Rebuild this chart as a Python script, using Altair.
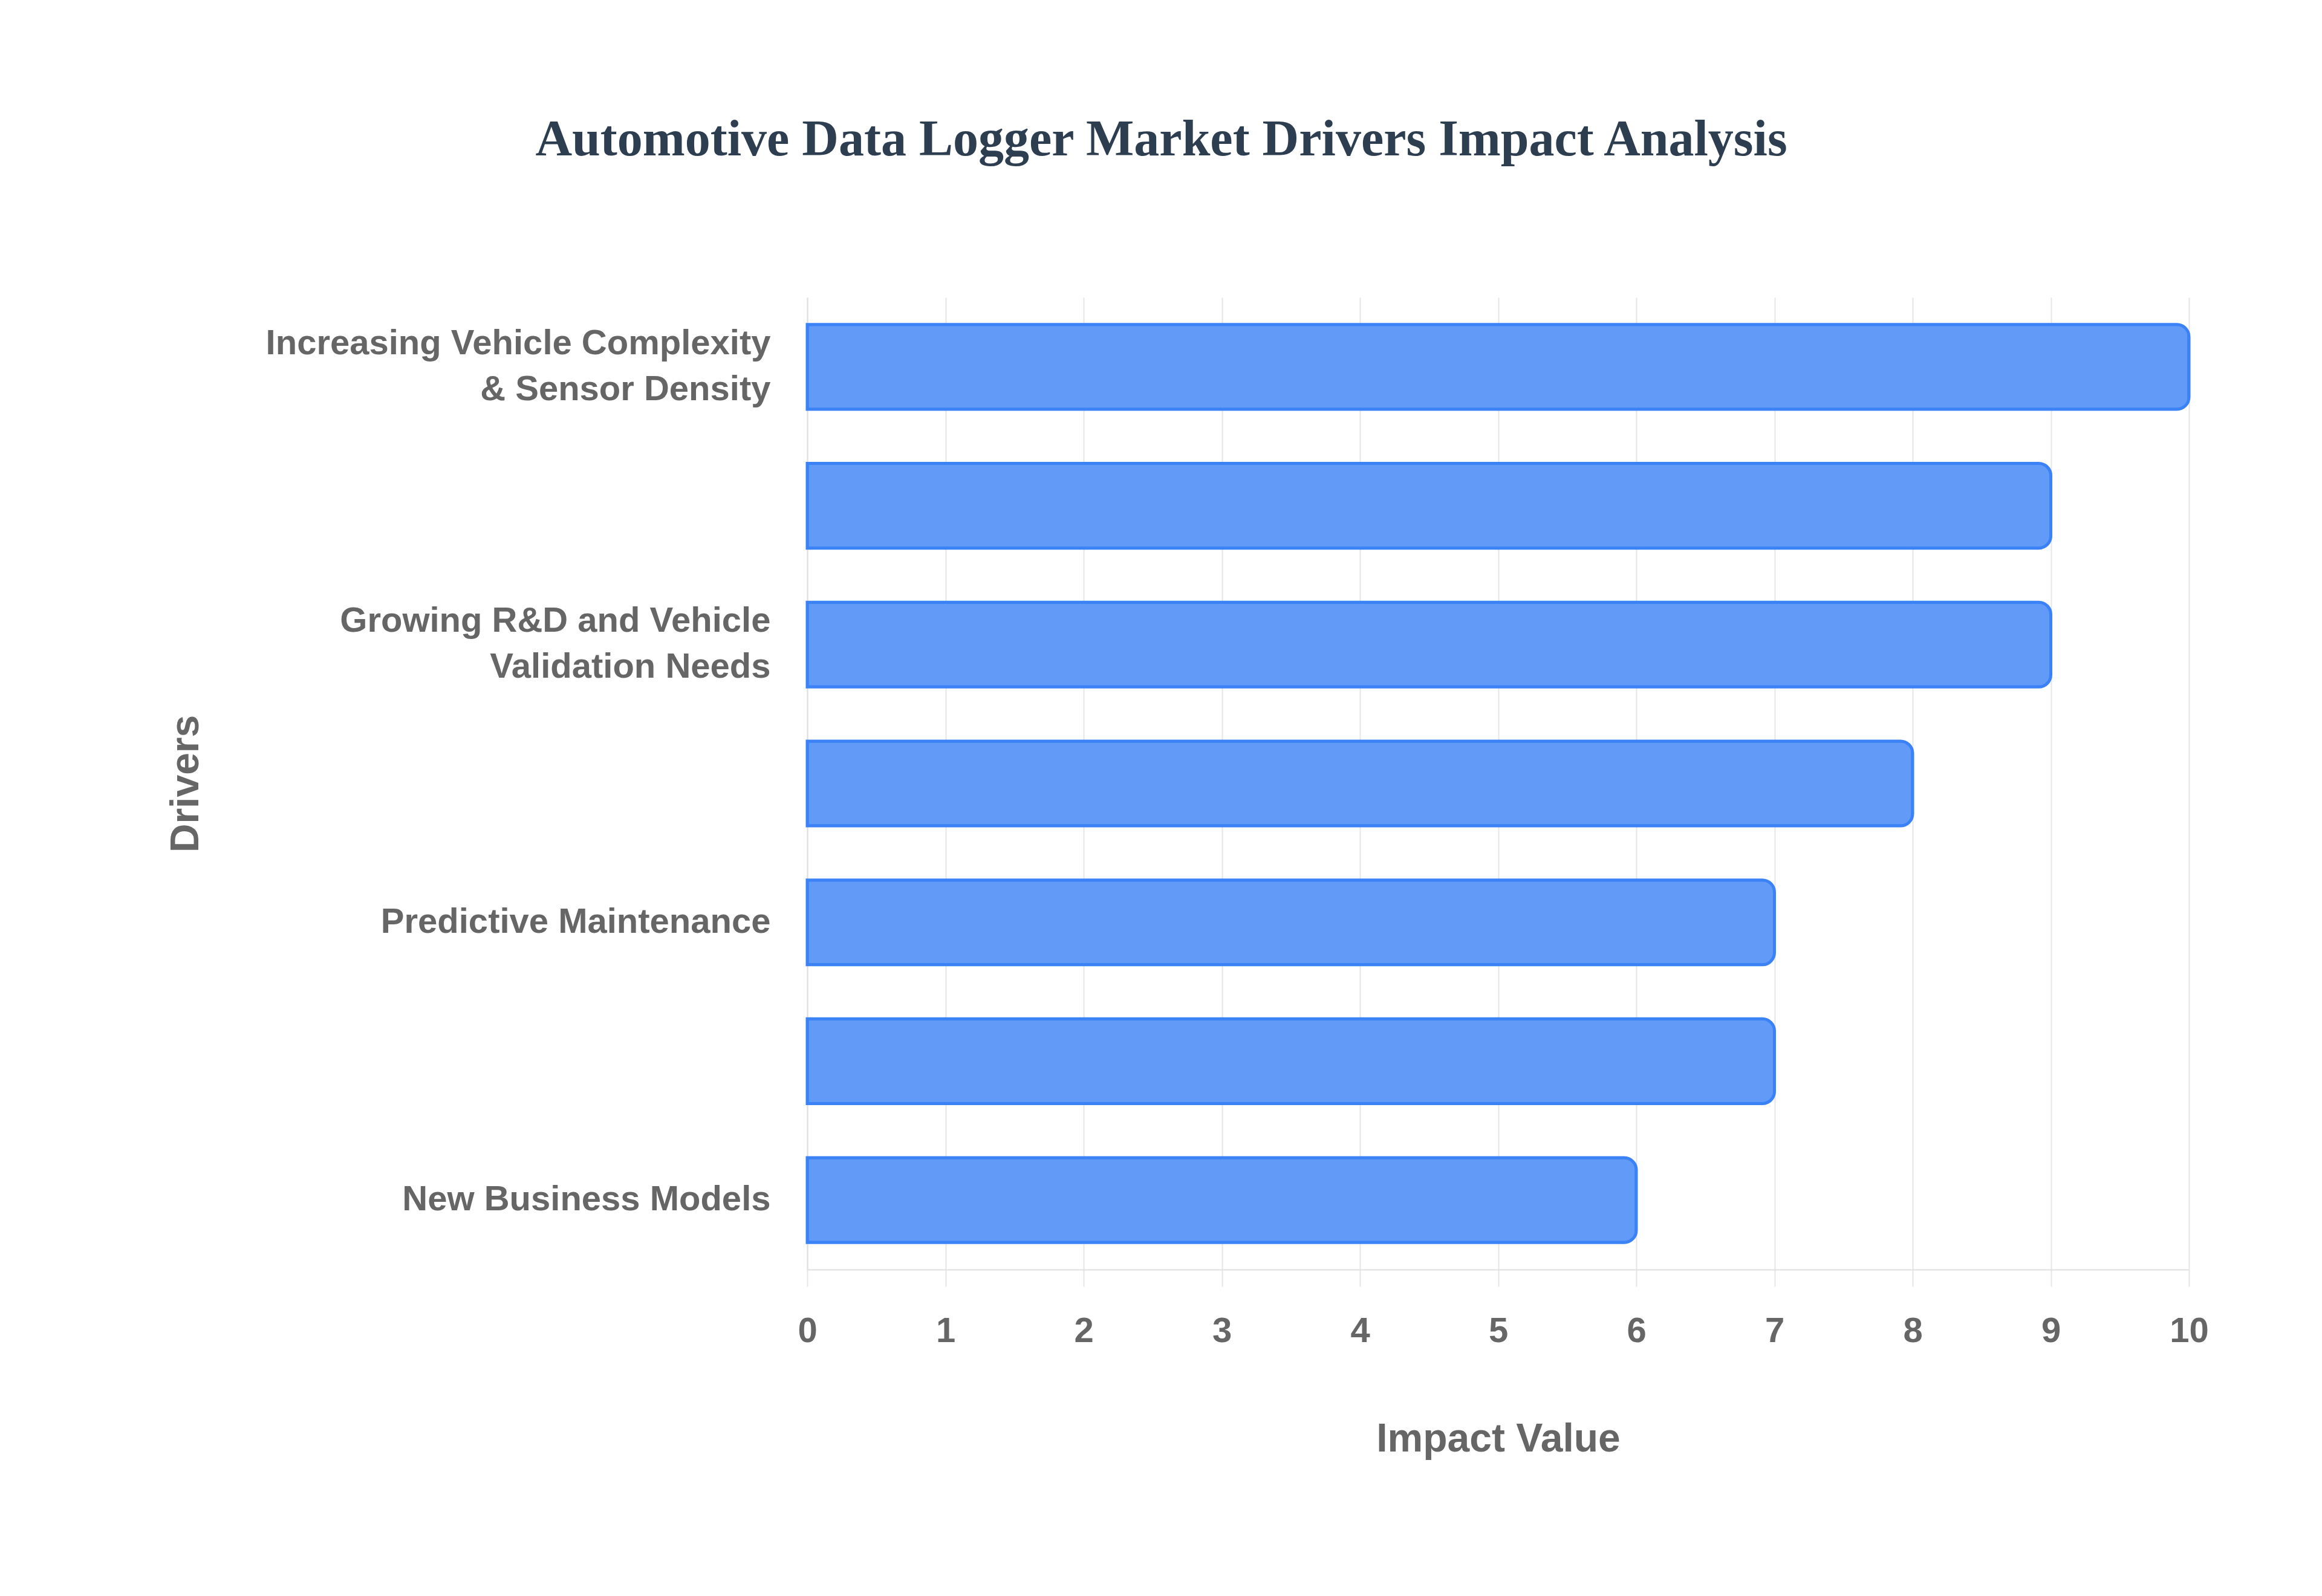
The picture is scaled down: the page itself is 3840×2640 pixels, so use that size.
import altair as alt
import pandas as pd

# Data (top to bottom)
drivers = [
    "Increasing Vehicle Complexity & Sensor Density",
    "ADAS & Autonomous Driving Development",
    "Growing R&D and Vehicle Validation Needs",
    "Stringent Safety & Emission Regulations",
    "Predictive Maintenance",
    "Connected Vehicles & Telematics",
    "New Business Models",
]
impact = [10, 9, 9, 8, 7, 7, 6]

# How each category label is drawn on the axis (empty = label skipped in the reference)
label_lines = {
    "Increasing Vehicle Complexity & Sensor Density": ["Increasing Vehicle Complexity", "& Sensor Density"],
    "ADAS & Autonomous Driving Development": [],
    "Growing R&D and Vehicle Validation Needs": ["Growing R&D and Vehicle", "Validation Needs"],
    "Stringent Safety & Emission Regulations": [],
    "Predictive Maintenance": ["Predictive Maintenance"],
    "Connected Vehicles & Telematics": [],
    "New Business Models": ["New Business Models"],
}
x_ticks = list(range(0, 11))

df = pd.DataFrame({"Driver": drivers, "Impact": impact})


def lines_expr(lines):
    if not lines:
        return "''"
    return "[" + ", ".join("'" + l + "'" for l in lines) + "]"


expr = "datum.label"
for k in reversed(drivers):
    expr = f"datum.value == '{k}' ? {lines_expr(label_lines[k])} : ({expr})"

LINE_H = 76
multi = [k for k in drivers if len(label_lines[k]) > 1]
multi_test = " || ".join(f"datum.value == '{k}'" for k in multi)

W, H = 2285, 1608
LEFT, TOP = 1327, 484

chart = (
    alt.Chart(df)
    .mark_bar(
        fill="#629bf7",
        stroke="#3b82f6",
        strokeWidth=5,
        cornerRadiusEnd=20,
    )
    .encode(
        x=alt.X(
            "Impact:Q",
            scale=alt.Scale(domain=[0, 10], nice=False),
            axis=alt.Axis(
                title="Impact Value",
                values=x_ticks,
                format="d",
                labelFlush=False,
                labelFont="Liberation Sans",
                labelFontSize=58,
                labelFontWeight="bold",
                labelColor="#666666",
                labelBaseline="alphabetic",
                labelPadding=91,
                tickSize=28,
                tickColor="#e5e5e5",
                tickWidth=2,
                grid=True,
                gridColor="#e5e5e5",
                gridWidth=2,
                domainColor="#e0e0e0",
                domainWidth=2,
                titleFont="Liberation Sans",
                titleFontSize=66,
                titleFontWeight="bold",
                titleColor="#666666",
                titleBaseline="alphabetic",
                titleY=300,
            ),
        ),
        y=alt.Y(
            "Driver:N",
            sort=drivers,
            scale=alt.Scale(paddingInner=0.39, paddingOuter=0.195),
            axis=alt.Axis(
                title="Drivers",
                labelExpr=expr,
                labelFont="Liberation Sans",
                labelFontSize=58,
                labelFontWeight="bold",
                labelColor="#666666",
                labelLineHeight=LINE_H,
                labelOffset={"condition": {"test": multi_test, "value": -LINE_H / 2}, "value": 0},
                labelPadding=61,
                labelLimit=2000,
                ticks=False,
                grid=False,
                domainColor="#e0e0e0",
                domainWidth=2,
                titleFont="Liberation Sans",
                titleFontSize=66,
                titleFontWeight="bold",
                titleColor="#666666",
                titleBaseline="alphabetic",
                titleX=-1008,
                titleY=H / 2,
            ),
        ),
    )
    .properties(
        width=W,
        height=H,
        title=alt.TitleParams(
            text="Automotive Data Logger Market Drivers Impact Analysis",
            font="Liberation Serif",
            fontSize=84,
            fontWeight="bold",
            color="#2c3e50",
            anchor="middle",
            baseline="alphabetic",
            offset=151,
            dx=-557,
        ),
        autosize=alt.AutoSizeParams(type="none"),
        padding={"left": LEFT, "top": TOP, "right": 3824 - LEFT - W, "bottom": 2624 - TOP - H},
        background="white",
    )
    .configure_view(stroke=None)
)

chart.save("out.html", embed_options={"renderer": "svg", "actions": False})
